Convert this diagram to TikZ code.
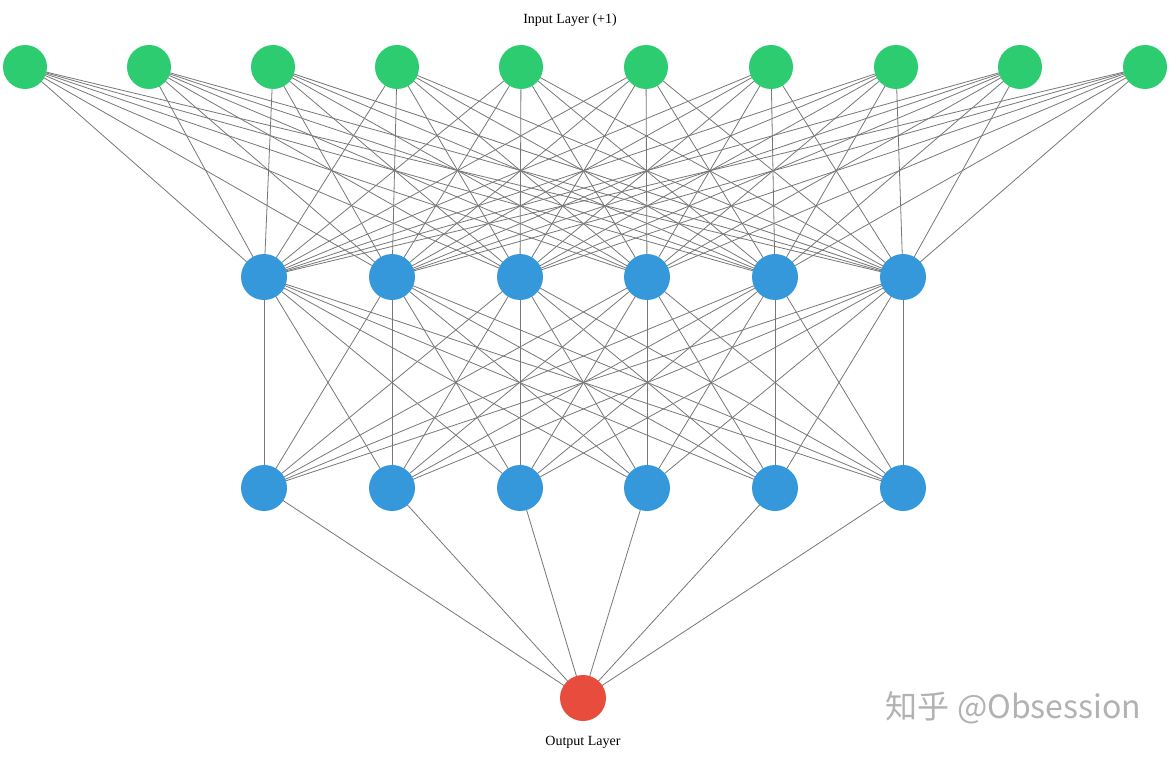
\documentclass[tikz,border=0pt]{standalone}
\usepackage{fontspec}
\setmainfont{Liberation Serif}
\newfontfamily\cjk{Noto Sans CJK SC}
\usetikzlibrary{backgrounds}
\definecolor{ngreen}{HTML}{2ECC71}
\definecolor{nblue}{HTML}{3498DB}
\definecolor{nred}{HTML}{E74C3C}
\definecolor{edgec}{HTML}{777777}
\begin{document}
\begin{tikzpicture}[x=0.75pt,y=-0.75pt,
  neuron/.style={circle,minimum size=33pt,inner sep=0pt},
  inp/.style={neuron,fill=ngreen},
  hid/.style={neuron,fill=nblue,minimum size=34.5pt},
  outn/.style={neuron,fill=nred,minimum size=34.5pt},
  edge/.style={draw=edgec,line width=0.6pt},
  lbl/.style={font=\fontsize{10.5}{12}\selectfont}]
\useasboundingbox (0,0) rectangle (1176,756);
\foreach \i/\x in {1/25,2/149,3/273,4/397,5/521,6/646,7/771,8/896,9/1020,10/1145}
  \node[inp] (i\i) at (\x,67) {};
\foreach \i/\x in {1/264,2/392,3/520,4/647,5/775,6/903}{
  \node[hid] (a\i) at (\x,277) {};
  \node[hid] (b\i) at (\x,488) {};}
\node[outn] (o) at (583,698) {};
\node[lbl] (tin) at (570,20) {Input Layer (+1)};
\node[lbl] (tout) at (583,742) {Output Layer};
\node[text=gray!60,font=\cjk\fontsize{24}{26}\selectfont,anchor=east] (wm) at (1146,708) {知乎 @Obsession};
\begin{scope}[on background layer]
\foreach \i in {1,...,10}\foreach \j in {1,...,6}\draw[edge] (i\i.center) -- (a\j.center);
\foreach \i in {1,...,6}\foreach \j in {1,...,6}\draw[edge] (a\i.center) -- (b\j.center);
\foreach \i in {1,...,6}\draw[edge] (b\i.center) -- (o.center);
\end{scope}
\end{tikzpicture}
\end{document}
